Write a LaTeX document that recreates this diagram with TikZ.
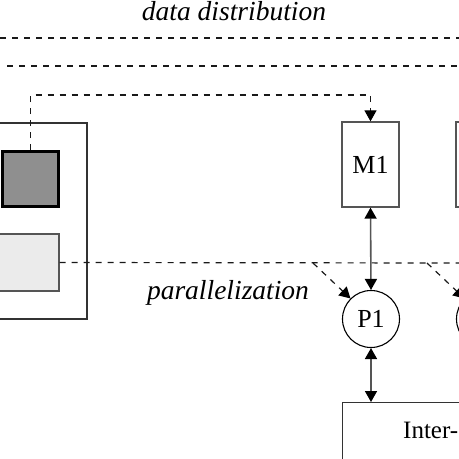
\documentclass[tikz,border=0pt]{standalone}
\usepackage{fontspec}
\setmainfont{Liberation Serif}
\usetikzlibrary{arrows.meta}
\definecolor{edgegray}{HTML}{555555}
\definecolor{darkfill}{HTML}{8F8F8F}
\definecolor{lightfill}{HTML}{EBEBEB}
\tikzset{
  boxnode/.style={draw=edgegray, line width=1.3pt, inner sep=0pt},
  dashline/.style={draw=black!90, line width=1.2pt, dash pattern=on 6pt off 6pt},
  tip/.style={-{Triangle[length=11pt,width=12pt,color=black]}},
  dtip/.style={{Triangle[length=11pt,width=12pt,color=black]}-{Triangle[length=11pt,width=12pt,color=black]}},
  link/.style={draw=edgegray, line width=1.6pt},
  lbl/.style={font=\fontsize{26}{31}\selectfont, inner sep=0pt},
  ilbl/.style={font=\fontsize{27.5}{33}\selectfont\itshape, inner sep=0pt},
}
\begin{document}
\begin{tikzpicture}[x=1pt,y=-1pt]
\useasboundingbox (0,0) rectangle (459,459);
\clip (0,0) rectangle (459,459);
% title and top dashed lines
\node[ilbl, anchor=base] (title) at (234,20) {data distribution};
\coordinate (l1a) at (0,38);  \coordinate (l1b) at (459,38);
\coordinate (l2a) at (7,66);  \coordinate (l2b) at (459,66);
\draw[dashline] (l1a) -- (l1b);
\draw[dashline] (l2a) -- (l2b);
% left big box and inner boxes
\node[boxnode, draw=black!80, minimum width=92pt, minimum height=196pt] (big) at (41,221) {};
\node[draw=black, line width=3pt, fill=darkfill, minimum width=56pt, minimum height=55pt, inner sep=0pt] (dark) at (30.5,179) {};
\node[boxnode, fill=lightfill, minimum width=64pt, minimum height=57pt] (light) at (27,262.5) {};
% memory boxes
\node[boxnode, minimum width=57pt, minimum height=85pt, lbl] (M1) at (370.5,164.5) {M1};
\node[boxnode, minimum width=57pt, minimum height=85pt] (M2) at (484.5,164.5) {};
% processors
\node[draw=black, line width=1.1pt, circle, minimum size=57pt, inner sep=0pt, lbl] (P1) at (371,319) {P1};
\node[draw=black, line width=1.1pt, circle, minimum size=57pt, inner sep=0pt] (P2) at (485,319) {};
% interconnect box
\node[boxnode, draw=black!80, minimum width=220pt, minimum height=120pt, anchor=north west] (net) at (342,402) {};
\node[font=\fontsize{25}{30}\selectfont, inner sep=0pt, anchor=base west] (nettext) at (403,438) {Inter-};
% data distribution connector
\coordinate (c1) at (31,95);
\draw[dashline, tip] (dark.north) -- (dark.north |- c1) -| (M1.north);
% parallelization line
\coordinate (pe) at (459,263);
\draw[dashline] (light.east) -- (pe);
\coordinate (d1) at (313,263);
\coordinate (d2) at (427,263);
\draw[dashline, tip] (d1) -- (P1.135);
\draw[dashline, tip] (d2) -- (P2.135);
\node[ilbl, anchor=base] (par) at (228,299) {parallelization};
% links
\draw[link, dtip] (M1.south) -- (P1.north);
\draw[link, dtip] (P1.south) -- (net.north -| P1.south);
\end{tikzpicture}
\end{document}
